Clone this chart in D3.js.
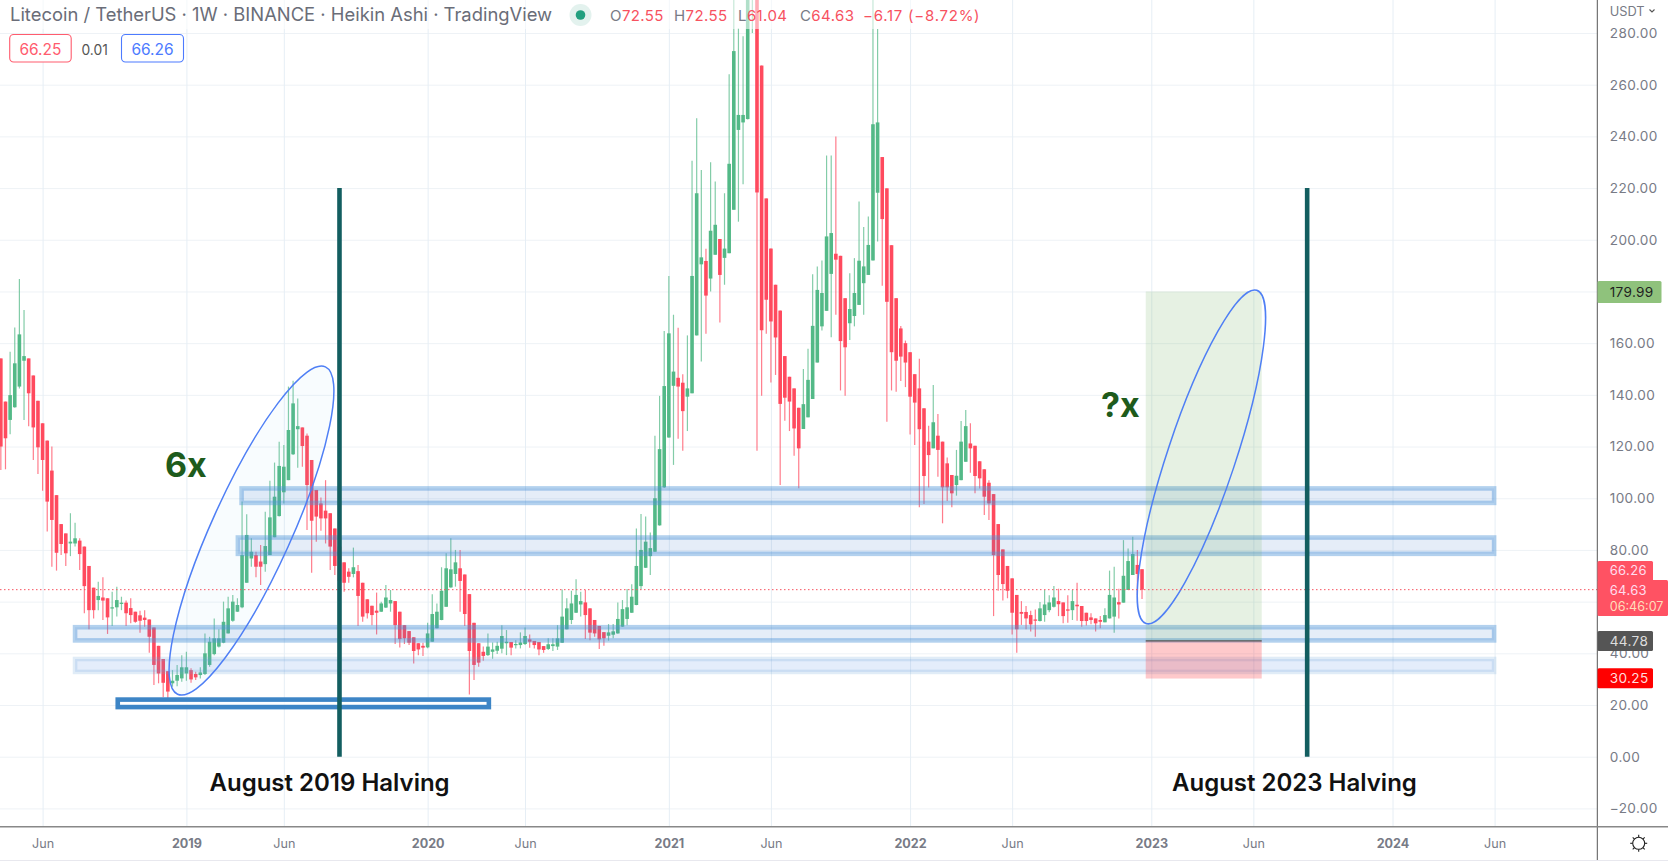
<!DOCTYPE html>
<html><head><meta charset="utf-8">
<script src="https://cdn.jsdelivr.net/npm/d3@7/dist/d3.min.js"></script>
<style>
html,body{margin:0;padding:0;background:#fff;overflow:hidden}
svg{display:block}
text{font-family:Inter,"Noto Sans",sans-serif}
</style></head><body>
<svg id="c" width="1668" height="864"></svg>
<script>
const firstBar = -40;
const opens = [154.1,137.4,130.3,135.2,143.2,153.2,154.1,147.5,137.7,129,
122.3,110.7,101.2,90,86.4,82.5,82.5,83.6,81.3,73.8,
65.4,60.6,61.6,61.3,57.5,57.8,59.1,59.6,57.5,56.1,
54.7,53.8,53.1,50,42.9,37.8,33.1,28.4,29.4,30.3,
32.2,33.5,32,31.6,32,35.5,39.7,42.6,44.1,47.7,
52.6,56.1,57.8,67.3,76.7,78,75.5,74.5,78,84.9,
93.1,102.3,107,117,126.7,127.4,124.2,114.8,103.2,98,
95.2,94.2,88.3,81.3,75.2,71.6,70.7,71.8,67.3,60.9,
58.4,56.5,56.1,57.7,59.3,60.2,56.1,50.9,48.6,46.2,
43.9,42.9,42.3,44.5,49.7,52.9,58,65.5,70.7,72.9,
70.5,62.9,51.8,43.9,40.6,39.3,40.6,41,41.8,43.9,
44.4,43.2,43.2,43.6,45.4,44.8,44.4,42.8,41.7,42.8,
42.6,44.1,49.3,52.9,55.7,58.9,59.7,57.4,52.9,50.6,
48.2,46.8,47.2,47.7,50.3,53.3,55.7,58.7,66,73.1,
77.6,79.3,89.5,104.2,123.5,143.5,146.6,144.7,139.3,140.6,
163,190.5,191.8,185,194.2,200.3,193,194.8,211.6,242.5,
245.4,246.7,295,340,267.4,216,196.6,182.6,172.6,155,
147,142.5,135,126.8,131.3,138.4,152.5,166.5,172.5,186.8,
194.6,193.8,177.4,167.7,170.5,174.8,183.2,186.4,192,218.2,
232,219.9,197.9,177.4,165.7,160,156.5,148,142.5,134.8,
121.9,119.3,124.2,121.9,113.5,109,105.1,107,114.1,121.2,
120.3,114.3,111.2,106,101.6,90,80.2,73.8,69,62.6,
56,56,54.8,53.1,52.5,54.8,56.7,58,60.2,59.7,
57,56.7,58.8,58.3,55.7,53.9,53.5,52.9,52,53.5,
54.2,59.8,59.6,64.5,70.3,74.2,72.55];
const closes = [120,123.2,139.9,152.2,163.4,155,140.6,127.4,119.7,114.8,
98.7,91.6,78.9,82.3,78.7,83.2,84.5,78.4,66,56.7,
56.7,62.2,60.4,53.9,57.8,60.6,59.6,55.5,54.8,52.2,
52.6,52.9,46.4,35.5,32.2,28.6,25.2,29.4,31.6,34.6,
34.6,29.9,30.7,32.6,40,44.5,45.8,45.8,52.2,57.4,
60,58.7,78,85.8,79.3,73.5,73.5,81.5,92.6,100.6,
112.5,112.2,126.4,136.7,127.9,120.2,105.1,91.3,92.9,92.2,
92.2,81.3,73.8,68,67.3,69.6,73.3,62.2,54.2,55.5,
54.8,55.7,59.3,61.6,60.6,50.9,45.5,45.8,44.1,40.9,
41.5,42.2,47.7,55.2,56.1,64.2,72.9,72.5,75.2,68,
55.2,40.9,35.5,36.4,39,42.6,41.5,42.9,46.7,44.5,
42.2,43.6,44.2,46.7,44.5,43.2,41.5,41.3,43.5,43.5,
45.8,54.2,57.4,59.3,62.6,60.2,54.8,48,47.7,45.4,
45.8,48.1,48.5,53.3,57.1,57.8,61.9,73.8,80,83.2,
80.7,100,119,143.4,163.8,149,143.2,133.7,142.5,186,
218,193.2,178.4,203.5,205.8,186.4,196.6,229.4,273,248.3,
248.3,298,350,218.3,165,176.8,168.4,162.2,136.5,138.9,
137.4,127,119.3,136.4,145.8,166.7,180.6,179.4,201.3,202.6,
192.3,160.8,158.4,173.2,179.4,191.9,189.7,198,244.7,245.4,
208,176,156.5,153.2,154.8,152.5,139.3,137,126.7,108.6,
116.7,129.4,118.7,104.2,104.2,101.9,108.7,121.9,127.9,119.3,
108.6,107.7,100.6,98,78,70.3,66.8,64.2,55.7,49.3,
55.3,53.5,51.2,52.6,57.4,58.9,59.7,61.6,59,54.4,
56.5,60.2,58.2,52.5,52.5,52.9,51.6,52.2,54.8,62.6,
61.6,58.9,70,75.7,78.4,70.7,64.63];
const highs = [154.1,137.4,156.7,166.1,184.8,172.8,154.1,147.5,137.7,129,
122.3,120,101.2,90,86.4,94.2,90.5,84.5,81.3,73.8,
65.4,67.7,69.4,61.3,63.8,65.8,61.9,60.4,61.3,56.1,
56.5,56.7,53.1,50,42.9,37.8,33.1,33.5,35.5,39.3,
40.6,34.2,32.9,34.6,47.7,46.4,53.5,49.3,60,61.9,
62.6,61.3,98.7,93.8,84.5,79.3,81.9,94.8,106.8,113.8,
121.9,120.6,143.2,145.5,138.6,127.4,125,114.8,103.2,100.3,
107,94.2,88.3,81.3,75.2,72.9,80.9,74.2,67.3,60.9,
58.4,63.5,60,66.4,64.5,60.2,56.1,50.9,48.6,46.2,
43.9,44.1,51.8,62.9,59.3,73.3,78.7,84.5,80,80,
70.5,62.9,51.8,43.9,42.6,47.7,44.2,44.5,50.9,49,
44.4,45.1,48.1,50,47.3,44.8,44.4,42.8,45.8,45.8,
50.9,64.7,61.3,64.2,68.7,63.8,64.5,57.4,52.9,50.6,
48.2,51.3,51.3,59.7,60.6,64.9,66.7,88.3,93.9,92.9,
86.7,124.2,139.6,164.7,186,171,166,148,163,230.6,
247,227,196.5,230,222.5,200.3,218,264,300,281.8,
278.7,340,413,350,267.4,216,196.6,182.6,172.6,155,
147,142.5,135,150,157.8,186.7,189.7,192,232.6,232.6,
240,193.8,177.4,187,192.9,214.8,204.9,209,300,281.5,
232,219.9,197.9,177.4,166.6,161,156.5,148,154,134.8,
128,143.8,132.6,121.9,115.8,109,118.7,129.9,134.1,129,
120.3,114.3,111.2,107,101.6,90,80.2,73.8,69,62.6,
60.2,58.3,56.5,57,59.9,64.5,62.5,66,65,59.7,
62.5,64.5,67.3,58.3,55.7,55.5,53.5,54.4,57.4,72,
73.5,65,83.8,80.6,85.1,80,72.55];
const lows = [110.9,111.2,124.8,135,142.5,130.3,127.9,114.8,109.4,102.9,
87.1,73.5,72,78,73.8,77.6,81.3,72.2,55.5,49.3,
53.5,56.7,52.9,47.5,50.6,54.2,56.7,50.6,51.6,51.8,
48,50.3,40.2,27.7,28.4,23,22.6,27.1,27.3,29,
29.4,28.6,29.7,30.3,31.6,34.8,39.3,42.3,43.9,47.7,
52.2,56,57.4,67.3,73.5,69.4,66.4,71.6,78,84.9,
92.9,98,107,116.7,111.8,112.2,87.7,71.2,83.2,87.4,
82.5,72.2,70.3,62.6,63.8,67.3,69.4,50.6,52.2,53.5,
50.9,47.3,56,57.5,56.1,43.6,42.3,43.6,43.2,36.1,
39.3,39,42,44.5,49.6,52.8,58,65.4,65.8,56.1,
50.6,24.1,29.7,34.8,37.1,39,37.9,39.7,40,39.3,
39.3,41.9,41.9,43.2,42.2,41.9,39.3,40.2,41.3,40.9,
41.3,44,49.2,51.3,55.6,54.2,45.5,45.1,46.4,41.7,
42.9,44.9,45.8,47.6,50.2,50.9,55.6,58.6,64.7,73,
70.3,79.2,89.4,104,123.4,112.9,123,118.4,126,140.6,
163,152.9,163.6,180,194.2,168,182.6,194.8,211.6,207,
221.5,246.5,280,118.4,139.7,163.6,144.8,147.7,105.1,130,
126,116.4,103.9,126.8,131.3,138.4,152.5,164.9,172.5,162.3,
171,141.7,139.7,161.2,166.5,174.8,171,186.4,192,199.3,
182.2,129.6,141.7,141.2,145.4,143,124.7,120.6,96.5,97.8,
104.2,119.3,108.3,90.3,98.9,96.5,101,107,114.1,109.9,
101.9,103.8,93.5,91.6,54.4,64.2,60.4,61.3,47.3,40.2,
51,49.3,48.4,46.4,52.3,52.2,55.9,57.7,54.4,51.6,
51.8,52.9,52.6,50.3,50.8,51.2,48.4,49.7,52,53.5,
48,53.5,59.6,64.5,70.3,62.6,61.04];

const priceTicks = [-20,0,20,40,60,80,100,120,140,160,180,200,220,240,260,280];
const hiddenPriceLabels = [60,180];
const timeTickBars = [-31,0,21,52,73,104,126,156,178,208,230,260,282];
const timeTickLabels = ["Jun","2019","Jun","2020","Jun","2021","Jun","2022","Jun","2023","Jun","2024","Jun"];
const yearTickLabels = ["2019","2020","2021","2022","2023","2024"];
// zones: [bar start, bar end, upper price, lower price]
const zoneStarts = [11.9,11.1,-24,-24];
const zoneEnds = [281.9,281.9,281.9,281.9];
const zoneUppers = [103.8,84.8,50.1,37.8];
const zoneLowers = [98.2,78.5,45,32.8];
const halvingBars = [33,241.6];
const halvingLabels = ["August 2019 Halving","August 2023 Halving"];
const halvingTop = 220, halvingBottom = 0;
const targetPrice = 179.99, entryPrice = 44.78, stopPrice = 30.25, lastClose = 64.63;

const W = 1668, H = 864, plotR = 1597.3, plotB = 826.7;
const x = d3.scaleLinear().domain([0,208]).range([186.4,1151.3]);
const y = d3.scaleLinear().domain([-20,280]).range([808.4,33]);
const GREEN = "#53b987", RED = "#ff4a5e";
const svg = d3.select("#c");
svg.append("defs").append("clipPath").attr("id","plot").append("rect")
  .attr("x",0).attr("y",0).attr("width",plotR).attr("height",plotB);

// grid
const gridH = svg.append("g").attr("transform",`translate(${plotR},0)`)
  .call(d3.axisLeft(y).tickValues(priceTicks).tickSize(plotR).tickFormat(""));
gridH.select(".domain").remove();
gridH.selectAll("line").attr("stroke","#eef2f6").attr("stroke-width",1);
const gridV = svg.append("g").attr("transform",`translate(0,${plotB})`)
  .call(d3.axisTop(x).tickValues(timeTickBars).tickSize(plotB).tickFormat(""));
gridV.select(".domain").remove();
gridV.selectAll("line").attr("stroke","#e6eef5").attr("stroke-width",1);

const chart = svg.append("g").attr("clip-path","url(#plot)");
const bars = d3.range(opens.length).map(i=>({k:firstBar+i,o:opens[i],c:closes[i],h:highs[i],l:lows[i]}));
chart.append("g").selectAll("line").data(bars).join("line")
  .attr("x1",d=>x(d.k)).attr("x2",d=>x(d.k)).attr("y1",d=>y(d.h)).attr("y2",d=>y(d.l))
  .attr("stroke",d=>d.c>=d.o?GREEN:RED).attr("stroke-width",1.2).attr("stroke-opacity",.72);
chart.append("g").selectAll("rect").data(bars).join("rect")
  .attr("x",d=>x(d.k)-1.8).attr("width",3.6)
  .attr("y",d=>y(Math.max(d.o,d.c)))
  .attr("height",d=>Math.max(1.2,Math.abs(y(d.o)-y(d.c))))
  .attr("fill",d=>d.c>=d.o?GREEN:RED);

// zones
const zones = d3.range(zoneStarts.length).map(i=>({a:zoneStarts[i],b:zoneEnds[i],u:zoneUppers[i],l:zoneLowers[i],light:i===3}));
chart.append("g").selectAll("rect").data(zones).join("rect")
  .attr("x",d=>x(d.a)).attr("width",d=>x(d.b)-x(d.a))
  .attr("y",d=>y(d.u)).attr("height",d=>y(d.l)-y(d.u))
  .attr("fill",d=>d.light?"rgba(90,140,230,.16)":"rgba(70,130,205,.14)")
  .attr("stroke",d=>d.light?"rgba(100,160,215,.2)":"rgba(75,145,215,.42)")
  .attr("stroke-width",4.6);
// dark zone
chart.append("rect").attr("x",x(-14.8)).attr("width",x(65.2)-x(-14.8))
  .attr("y",y(22.1)).attr("height",y(19.2)-y(22.1))
  .attr("fill","rgba(255,255,255,.8)").attr("stroke","#3d85c6").attr("stroke-width",4.6);

// long position
const longA = 206.8, longB = 231.8;
chart.append("rect").attr("x",x(longA)).attr("width",x(longB)-x(longA))
  .attr("y",y(targetPrice)).attr("height",y(entryPrice)-y(targetPrice))
  .attr("fill","rgba(104,170,90,.17)");
chart.append("rect").attr("x",x(longA)).attr("width",x(longB)-x(longA))
  .attr("y",y(entryPrice)).attr("height",y(stopPrice)-y(entryPrice))
  .attr("fill","rgba(252,60,70,.28)");
chart.append("line").attr("x1",x(longA)).attr("x2",x(longB))
  .attr("y1",y(entryPrice)).attr("y2",y(entryPrice)).attr("stroke","#555").attr("stroke-width",1.2);

// ellipses: centre bar, centre price, semi axes, rotation
const ellipseBars = [14.03,218.8], ellipsePrices = [87.5,116], ellipseRx=[179.6,175.6], ellipseRy=[40,34], ellipseRot=[-65.7,-71.6];
ellipseBars.forEach((b,i)=>{
  chart.append("ellipse").attr("cx",0).attr("cy",0).attr("rx",ellipseRx[i]).attr("ry",ellipseRy[i])
   .attr("transform",`translate(${x(b)},${y(ellipsePrices[i])}) rotate(${ellipseRot[i]})`)
   .attr("fill",i===0?"rgba(120,190,240,.05)":"none").attr("stroke","#4f7ff5").attr("stroke-width",1.5);
});

// last-price dotted
chart.append("line").attr("x1",0).attr("x2",plotR).attr("y1",y(lastClose)).attr("y2",y(lastClose))
  .attr("stroke","#f7525f").attr("stroke-width",1).attr("stroke-dasharray","1.5 2.5");

// halving lines
chart.append("g").selectAll("line").data(halvingBars).join("line")
  .attr("x1",d=>x(d)).attr("x2",d=>x(d)).attr("y1",y(halvingTop)).attr("y2",y(halvingBottom))
  .attr("stroke","#135e60").attr("stroke-width",4.6);

// annotations
svg.selectAll("text.h").data(halvingLabels).join("text").attr("class","h")
  .attr("x",(d,i)=>[209.5,1172][i]).attr("y",791)
  .attr("font-size",24).attr("font-weight",600).attr("fill","#111").text(d=>d);
svg.append("text").attr("x",165).attr("y",476.5).attr("font-size",34).attr("font-weight",700).attr("fill","#1e5b1c").text("6x");
svg.append("text").attr("x",1101).attr("y",416.5).attr("font-size",34).attr("font-weight",700).attr("fill","#1e5b1c").text("?x");

// header fade
svg.append("rect").attr("x",0).attr("y",0).attr("width",985).attr("height",29).attr("fill","rgba(255,255,255,.55)");
svg.append("text").attr("x",10).attr("y",21).attr("font-size",18.4).attr("fill","#6a6d78").text("Litecoin / TetherUS · 1W · BINANCE · Heikin Ashi · TradingView");
svg.append("circle").attr("cx",580.5).attr("cy",15).attr("r",11).attr("fill","#e3f2ee");
svg.append("circle").attr("cx",580.5).attr("cy",15).attr("r",4.8).attr("fill","#22a07f");
const ohlcLabels = ["O","H","L","C"], ohlcValues = ["72.55","72.55","61.04","64.63"];
const ohlcX = [610,674,738,800];
ohlcLabels.forEach((l,i)=>{
  const t = svg.append("text").attr("x",ohlcX[i]).attr("y",21).attr("font-size",15).attr("letter-spacing",.4).attr("fill","#787b86").text(l);
  t.append("tspan").attr("fill","#f7525f").text(ohlcValues[i]);
});
svg.append("text").attr("x",863).attr("y",21).attr("font-size",15).attr("letter-spacing",.75).attr("fill","#f7525f").text("−6.17 (−8.72%)");

// buy/sell boxes
const quoteBoxes = [[9.7,61.5,"66.25","#ff5c6e"],[121.5,62,"66.26","#4d7bff"]];
quoteBoxes.forEach(q=>{
  svg.append("rect").attr("x",q[0]).attr("y",34.5).attr("width",q[1]).attr("height",27.5).attr("rx",4)
    .attr("fill","#fff").attr("stroke",q[3]).attr("stroke-width",1.1);
  svg.append("text").attr("x",q[0]+q[1]/2).attr("y",54.5).attr("text-anchor","middle").attr("font-size",15.5).attr("fill",q[3]).text(q[2]);
});
svg.append("text").attr("x",81.5).attr("y",54.5).attr("font-size",13.8).attr("fill","#555").text("0.01");

// axes
const yAxis = svg.append("g").attr("transform",`translate(${plotR},0)`)
  .call(d3.axisRight(y).tickValues(priceTicks.filter(p=>!hiddenPriceLabels.includes(p))).tickSize(0).tickPadding(12.5)
    .tickFormat(d=>(d<0?"−":"")+Math.abs(d).toFixed(2)));
yAxis.select(".domain").remove();
yAxis.selectAll("text").attr("font-size",13.6).attr("letter-spacing",.35).attr("fill","#787b86").style("font-family","Inter");
svg.append("line").attr("x1",plotR).attr("x2",plotR).attr("y1",0).attr("y2",860).attr("stroke","#555").attr("stroke-width",1);

const xAxis = svg.append("g").attr("transform",`translate(0,${plotB})`)
  .call(d3.axisBottom(x).tickValues(timeTickBars).tickSize(0).tickPadding(12)
    .tickFormat((d,i)=>timeTickLabels[i]));
xAxis.select(".domain").remove();
xAxis.selectAll("text").attr("font-size",12.6).attr("fill","#787b86").style("font-family","Inter")
  .attr("font-weight",function(){return yearTickLabels.includes(d3.select(this).text())?700:400;});
svg.append("line").attr("x1",0).attr("x2",W).attr("y1",plotB).attr("y2",plotB).attr("stroke","#888").attr("stroke-width",1.5);
svg.append("line").attr("x1",0).attr("x2",W).attr("y1",860.5).attr("y2",860.5).attr("stroke","#e8e8ee").attr("stroke-width",1);

svg.append("text").attr("x",1609.7).attr("y",15.5).attr("font-size",12.8).attr("fill","#787b86").text("USDT");
svg.append("path").attr("d","M1649.5 9.5l2.5 2.5l2.5-2.5").attr("fill","none").attr("stroke","#555").attr("stroke-width",1.1);

// price labels
function label(x0,x1,y0,y1,fill){svg.append("rect").attr("x",x0).attr("y",y0).attr("width",x1-x0).attr("height",y1-y0).attr("rx",1.5).attr("fill",fill);}
function ltxt(t,yy,col,fs,ls){svg.append("text").attr("x",1609.7).attr("y",yy).attr("font-size",fs||13.6).attr("letter-spacing",ls===undefined?.35:ls).attr("fill",col).text(t);}
label(1597.5,1661.5,281,303,"#8fc27c"); ltxt(targetPrice.toFixed(2),297,"#222");
label(1597.5,1653,561,581,"#ff5263"); ltxt("66.26",575,"#fde",13);
label(1597.5,1668,580,616,"#ff5263"); ltxt(lastClose.toFixed(2),595,"#fde",13); ltxt("06:46:07",610.5,"#fdb",12.6,0);
label(1597.5,1653,631,651,"#555"); ltxt(entryPrice.toFixed(2),645.5,"#ddd");
label(1597.5,1653,668.3,688.3,"#ff0000"); ltxt(stopPrice.toFixed(2),683,"#fdd");

// settings icon
const gear = svg.append("g").attr("transform","translate(1638.7,843.3)").attr("fill","none").attr("stroke","#222").attr("stroke-width",1.1);
gear.append("circle").attr("r",6);
d3.range(8).forEach(i=>{const a=i*Math.PI/4;gear.append("line").attr("x1",6*Math.cos(a)).attr("y1",6*Math.sin(a)).attr("x2",8.5*Math.cos(a)).attr("y2",8.5*Math.sin(a));});
</script>
</body></html>
